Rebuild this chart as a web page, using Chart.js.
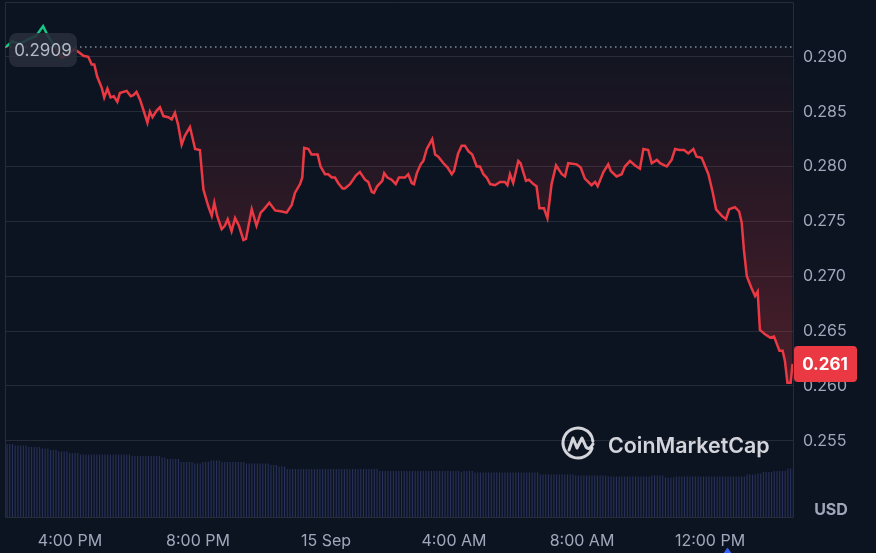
<!DOCTYPE html>
<html>
<head>
<meta charset="utf-8">
<title>Price chart</title>
<script src="https://cdn.jsdelivr.net/npm/chart.js@4.4.1/dist/chart.umd.min.js"></script>
<style>
  html, body { margin: 0; padding: 0; background: #0d1421; }
  #wrap { width: 876px; height: 553px; }
</style>
</head>
<body>
<div id="wrap"><canvas id="priceChart" width="876" height="553"></canvas></div>
<script>
// time in hours from 14 Sep 00:00
const hours = [
  14.00,14.19,14.44,14.69,14.94,15.16,15.31,15.53,15.75,15.94,
  16.13,16.29,16.42,16.57,16.68,16.76,16.85,16.99,17.07,17.17,
  17.27,17.37,17.48,17.56,17.77,17.90,17.98,18.08,18.19,18.29,
  18.42,18.50,18.58,18.71,18.81,18.92,19.07,19.18,19.28,19.38,
  19.49,19.59,19.75,19.91,20.06,20.17,20.32,20.43,20.51,20.60,
  20.74,20.84,20.93,21.05,21.16,21.28,21.42,21.50,21.68,21.83,
  21.96,22.06,22.23,22.41,22.62,22.77,22.93,23.03,23.19,23.26,
  23.32,23.45,23.55,23.74,23.83,23.97,24.07,24.18,24.28,24.38,
  24.52,24.59,24.75,24.94,25.06,25.22,25.32,25.43,25.50,25.60,
  25.76,25.82,25.92,26.05,26.18,26.28,26.47,26.57,26.68,26.75,
  26.84,26.96,27.04,27.15,27.32,27.41,27.51,27.67,27.80,27.93,
  28.00,28.13,28.24,28.34,28.45,28.57,28.71,28.81,28.92,29.02,
  29.13,29.28,29.44,29.59,29.67,29.75,29.85,30.01,30.08,30.25,
  30.34,30.48,30.58,30.67,30.81,30.92,31.05,31.19,31.37,31.47,
  31.57,31.83,31.96,32.09,32.30,32.41,32.49,32.67,32.82,32.90,
  33.08,33.24,33.34,33.50,33.66,33.81,33.92,34.07,34.18,34.34,
  34.44,34.65,34.80,34.91,35.04,35.19,35.32,35.48,35.58,35.74,
  35.95,36.08,36.19,36.37,36.50,36.60,36.78,36.91,36.99,37.06,
  37.15,37.30,37.41,37.49,37.56,37.72,37.88,38.00,38.08,38.17,
  38.27,38.34,38.42,38.52,38.58
];
const prices = [
  0.2909,0.2914,0.2912,0.2916,0.2919,0.2928,0.2919,0.2909,0.2899,0.2902,
  0.2907,0.2904,0.2901,0.2900,0.2893,0.2893,0.2882,0.2872,0.2863,0.2871,
  0.2863,0.2864,0.2859,0.2867,0.2869,0.2864,0.2865,0.2868,0.2861,0.2852,
  0.2840,0.2850,0.2845,0.2851,0.2854,0.2846,0.2845,0.2843,0.2849,0.2838,
  0.2820,0.2828,0.2836,0.2816,0.2815,0.2779,0.2764,0.2755,0.2767,0.2755,
  0.2743,0.2746,0.2752,0.2741,0.2753,0.2746,0.2733,0.2734,0.2761,0.2746,
  0.2758,0.2761,0.2767,0.2760,0.2759,0.2758,0.2765,0.2776,0.2784,0.2790,
  0.2817,0.2816,0.2811,0.2811,0.2800,0.2793,0.2793,0.2790,0.2790,0.2785,
  0.2780,0.2780,0.2784,0.2792,0.2795,0.2788,0.2786,0.2777,0.2776,0.2782,
  0.2787,0.2794,0.2790,0.2788,0.2784,0.2790,0.2790,0.2793,0.2785,0.2784,
  0.2794,0.2802,0.2805,0.2816,0.2825,0.2811,0.2809,0.2803,0.2799,0.2793,
  0.2796,0.2812,0.2819,0.2819,0.2814,0.2811,0.2800,0.2800,0.2793,0.2790,
  0.2784,0.2783,0.2786,0.2786,0.2783,0.2793,0.2785,0.2805,0.2803,0.2787,
  0.2788,0.2784,0.2782,0.2762,0.2762,0.2753,0.2784,0.2801,0.2793,0.2791,
  0.2803,0.2802,0.2799,0.2789,0.2783,0.2786,0.2782,0.2795,0.2802,0.2796,
  0.2791,0.2793,0.2800,0.2805,0.2801,0.2798,0.2816,0.2815,0.2803,0.2806,
  0.2803,0.2800,0.2806,0.2816,0.2815,0.2815,0.2812,0.2816,0.2809,0.2808,
  0.2793,0.2777,0.2761,0.2755,0.2752,0.2761,0.2763,0.2759,0.2749,0.2724,
  0.2700,0.2689,0.2682,0.2686,0.2651,0.2647,0.2644,0.2645,0.2639,0.2632,
  0.2632,0.2623,0.2603,0.2603,0.2620
];
const openPrice = 0.2909;
const openLabel = '0.2909';
const lastLabel = '0.261';

// 24h volume per 5 min bar (relative units)
const volumes = [
  73,73,73,
  71.5,71.5,71.5,71.5,71.5,
  70,70,70,70,70,
  68.5,68.5,68.5,
  67,67,67,
  65.5,65.5,65.5,65.5,
  64,64,64,64,
  62.5,62.5,62.5,62.5,62.5,62.5,62.5,62.5,62.5,62.5,62.5,62.5,62.5,62.5,62.5,62.5,62.5,62.5,62.5,
  61,61,61,61,61,61,61,61,61,61,61,
  59.5,59.5,
  58,58,58,58,58,
  55,55,55,55,55,
  53.5,53.5,53.5,
  55,55,55,
  56.5,56.5,56.5,56.5,
  55,55,55,55,55,55,55,55,55,
  53.5,53.5,53.5,53.5,53.5,53.5,53.5,53.5,53.5,
  52,52,52,
  50.5,50.5,50.5,
  48,48,48,48,48,48,48,48,48,48,48,48,48,48,48,48,48,
  48,48,48,48,48,48,48,48,48,48,48,48,48,48,48,48,48,
  46,46,46,46,46,46,46,46,46,46,46,46,46,46,46,
  46,46,46,46,46,46,46,46,46,46,46,46,46,46,46,
  45,46,46,46,46,
  44.5,44.5,44.5,44.5,44.5,44.5,44.5,44.5,44.5,44.5,44.5,44.5,
  44.5,44.5,44.5,44.5,44.5,44.5,44.5,44.5,44.5,44.5,44.5,44.5,
  42.5,42.5,42.5,42.5,42.5,42.5,42.5,42.5,42.5,42.5,42.5,42.5,42.5,
  41.5,41.5,41.5,41.5,41.5,41.5,41.5,41.5,41.5,41.5,41.5,41.5,
  40.5,40.5,40.5,40.5,40.5,40.5,40.5,40.5,40.5,40.5,40.5,40.5,40.5,40.5,40.5,40.5,
  41.5,41.5,41.5,41.5,41.5,
  39.5,39.5,39.5,39.5,
  40.5,40.5,40.5,40.5,40.5,40.5,40.5,40.5,40.5,40.5,40.5,40.5,40.5,
  40.5,40.5,40.5,40.5,40.5,40.5,40.5,40.5,40.5,40.5,40.5,40.5,40.5,
  42.5,42.5,42.5,42.5,
  43.5,43.5,
  45,45,45,45,
  46,46,46,46,46,
  48.5,48.5,48.5
];

const yTicks = [0.255, 0.260, 0.265, 0.270, 0.275, 0.280, 0.285, 0.290];
const xTickHours = [16, 20, 24, 28, 32, 36];
const xTickLabels = ['4:00 PM', '8:00 PM', '15 Sep', '4:00 AM', '8:00 AM', '12:00 PM'];

const red = '#ea3943';
const green = '#16c784';
const tickColor = '#a1a7bb';

function splitStroke(context) {
  const chart = context.chart;
  const area = chart.chartArea;
  if (!area) return red;
  const yRef = chart.scales.y.getPixelForValue(openPrice);
  const f = Math.min(Math.max((yRef - area.top) / (area.bottom - area.top), 0), 1);
  const g = chart.ctx.createLinearGradient(0, area.top, 0, area.bottom);
  g.addColorStop(0, green);
  g.addColorStop(f, green);
  g.addColorStop(f, red);
  g.addColorStop(1, red);
  return g;
}

function fillShade(context) {
  const chart = context.chart;
  if (!chart.chartArea) return 'transparent';
  const y0 = chart.scales.y.getPixelForValue(openPrice);
  const y1 = chart.scales.y.getPixelForValue(Math.min.apply(null, prices));
  const g = chart.ctx.createLinearGradient(0, y0, 0, y1);
  g.addColorStop(0, 'rgba(234,57,67,0.02)');
  g.addColorStop(1, 'rgba(234,57,67,0.28)');
  return g;
}

const overlay = {
  id: 'overlay',
  afterDatasetsDraw(chart) {
    const ctx = chart.ctx;
    const a = chart.chartArea;
    const yo = chart.scales.y.getPixelForValue(openPrice);
    ctx.save();

    // logo
    const logoColor = 'rgba(228,230,236,0.92)';
    const cx = 578, cy = 443;
    ctx.strokeStyle = logoColor;
    ctx.lineWidth = 3;
    ctx.lineCap = 'round';
    ctx.lineJoin = 'round';
    ctx.beginPath();
    ctx.arc(cx, cy, 15, 0.35, Math.PI * 2 - 0.12);
    ctx.stroke();
    ctx.beginPath();
    ctx.moveTo(cx - 9, cy + 7);
    ctx.lineTo(cx - 5, cy - 5);
    ctx.lineTo(cx - 1, cy + 5);
    ctx.lineTo(cx + 4, cy - 5);
    ctx.lineTo(cx + 8, cy + 4);
    ctx.quadraticCurveTo(cx + 11, cy + 8, cx + 15, cy + 1);
    ctx.stroke();
    ctx.fillStyle = logoColor;
    ctx.font = '600 22px Inter';
    const w = ctx.measureText('CoinMarketCap').width;
    ctx.font = '600 ' + (22 * 162 / w).toFixed(1) + 'px Inter';
    ctx.textAlign = 'left';
    ctx.textBaseline = 'alphabetic';
    ctx.fillText('CoinMarketCap', 608, 453);

    // frame
    ctx.strokeStyle = '#272c39';
    ctx.lineWidth = 1;
    ctx.lineCap = 'butt';
    ctx.strokeRect(a.left + 0.5, a.top + 0.5, a.right - a.left - 1, a.bottom - a.top);

    // open price dotted line
    ctx.strokeStyle = 'rgba(170,176,192,0.75)';
    ctx.lineWidth = 1.5;
    ctx.setLineDash([1.5, 3.5]);
    ctx.beginPath();
    ctx.moveTo(a.left, yo);
    ctx.lineTo(a.right, yo);
    ctx.stroke();
    ctx.restore();
  },
  afterDraw(chart) {
    const ctx = chart.ctx;
    const a = chart.chartArea;
    const yo = chart.scales.y.getPixelForValue(openPrice);
    const yl = chart.scales.y.getPixelForValue(prices[prices.length - 1]);
    ctx.save();

    // open price tag
    ctx.fillStyle = 'rgba(40,45,58,0.88)';
    ctx.beginPath();
    ctx.roundRect(9, yo + 3 - 17, 68, 34, 8);
    ctx.fill();
    ctx.fillStyle = '#b3b8c6';
    ctx.font = '17px Inter';
    ctx.textAlign = 'center';
    ctx.textBaseline = 'middle';
    ctx.fillText(openLabel, 43, yo + 4);

    // last price tag
    ctx.fillStyle = red;
    ctx.beginPath();
    ctx.roundRect(a.right, yl - 18, 63, 36, 4);
    ctx.fill();
    ctx.fillStyle = '#ffffff';
    ctx.font = 'bold 17px Inter';
    ctx.fillText(lastLabel, a.right + 31, yl + 1);

    // currency
    ctx.fillStyle = tickColor;
    ctx.font = 'bold 16px Inter';
    ctx.fillText('USD', 831, 510);

    // marker under the time axis
    ctx.fillStyle = '#3861fb';
    ctx.beginPath();
    ctx.moveTo(723, 554);
    ctx.lineTo(727.5, 547.5);
    ctx.lineTo(732, 554);
    ctx.closePath();
    ctx.fill();
    ctx.restore();
  }
};

new Chart(document.getElementById('priceChart'), {
  type: 'line',
  data: {
    labels: volumes.map(function (v, i) { return i; }),
    datasets: [{
      type: 'line',
      data: hours.map(function (h, i) { return { x: h, y: prices[i] }; }),
      xAxisID: 'x',
      yAxisID: 'y',
      borderColor: splitStroke,
      backgroundColor: fillShade,
      borderWidth: 2.5,
      pointRadius: 0,
      tension: 0,
      fill: { value: openPrice },
      order: 0
    }, {
      type: 'bar',
      data: volumes,
      xAxisID: 'xv',
      yAxisID: 'yv',
      backgroundColor: '#27315a',
      barPercentage: 0.82,
      categoryPercentage: 1,
      order: 2
    }]
  },
  options: {
    responsive: false,
    animation: false,
    devicePixelRatio: 1,
    layout: { padding: { top: 2, left: 5, right: 0, bottom: 0 } },
    plugins: {
      legend: { display: false },
      tooltip: { enabled: false }
    },
    scales: {
      x: {
        type: 'linear',
        position: 'bottom',
        min: 13.97,
        max: 38.625,
        grid: { display: false },
        border: { display: false },
        afterBuildTicks: function (s) { s.ticks = xTickHours.map(function (v) { return { value: v }; }); },
        afterFit: function (s) { s.height = 36; s.paddingLeft = 0; s.paddingRight = 0; },
        ticks: {
          color: tickColor,
          font: { family: 'Inter', size: 16 },
          padding: 7,
          maxRotation: 0,
          autoSkip: false,
          callback: function (v) { return xTickLabels[xTickHours.indexOf(v)]; }
        }
      },
      xv: { type: 'category', display: false, offset: true },
      y: {
        type: 'linear',
        position: 'right',
        min: 0.24805,
        max: 0.295,
        border: { display: false },
        grid: { color: 'rgba(255,255,255,0.1)', drawTicks: false },
        afterBuildTicks: function (s) { s.ticks = yTicks.map(function (v) { return { value: v }; }); },
        afterFit: function (s) { s.width = 82; s.paddingTop = 0; s.paddingBottom = 0; },
        ticks: {
          color: tickColor,
          font: { family: 'Inter', size: 16 },
          padding: 9,
          autoSkip: false,
          callback: function (v) { return v.toFixed(3); }
        }
      },
      yv: { type: 'linear', display: false, min: 0, max: 515 }
    }
  },
  plugins: [overlay]
});
</script>
</body>
</html>
